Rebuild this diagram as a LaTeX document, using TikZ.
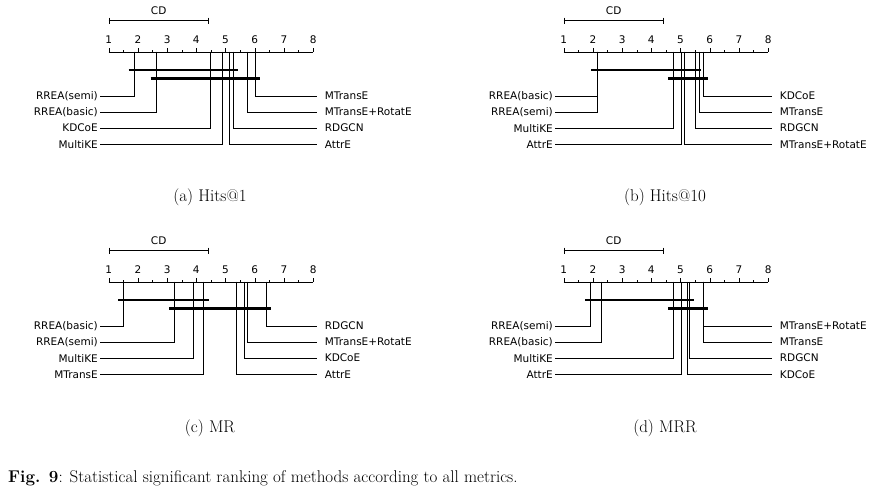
\documentclass[tikz,border=0pt]{standalone}
\usepackage{fontspec}
\newfontfamily\dv{DejaVu Sans}
\newcommand\X[1]{108.7+((#1)-1)*29.2}
\newcommand\cdaxis{%
  \draw[thin] (108.7,51.7) -- (313.1,51.7);
  \foreach \i in {1,...,8}{\draw[thin] ({\X{\i}},51.7) -- ({\X{\i}},48.2);
    \node[lbl,anchor=base] at ({\X{\i}},43.5) {\i};}
  \foreach \i in {1.5,2.5,...,7.5}{\draw[thin] ({\X{\i}},51.7) -- ({\X{\i}},50);}
  \draw[thin] ({\X{1}},20.5) -- ({\X{4.42}},20.5);
  \draw[thin] ({\X{1}},17.5) -- ({\X{1}},23.5);
  \draw[thin] ({\X{4.42}},17.5) -- ({\X{4.42}},23.5);
  \node[lbl,anchor=base] at ({\X{2.71}},14.5) {CD};}
\newcommand\lf[3]{\draw[thin] ({\X{#1}},51.7) |- (100,{95.7+16.2*#2}) node[lbl,anchor=east,xshift=-2pt]{#3};}
\newcommand\rt[3]{\draw[thin] ({\X{#1}},51.7) |- (316.7,{95.7+16.2*#2}) node[lbl,anchor=west,xshift=8pt]{#3};}
\newcommand\br[3]{\draw[line width=2.6pt] ({\X{#1}},#3) -- ({\X{#2}},#3);}
\begin{document}
\begin{tikzpicture}[x=1pt,y=-1pt,lbl/.style={font=\dv\fontsize{10.5}{12}\selectfont,inner sep=0pt},
  captxt/.style={font=\fontsize{17}{20}\selectfont,inner sep=0pt}]
\useasboundingbox (0,0) rectangle (879,496);
\fill[white] (0,0) rectangle (879,496);
% (a)
\begin{scope}
\cdaxis
\lf{1.86}{0}{RREA(semi)}\lf{2.62}{1}{RREA(basic)}\lf{4.49}{2}{KDCoE}\lf{4.87}{3}{MultiKE}
\rt{6.03}{0}{MTransE}\rt{5.76}{1}{MTransE+RotatE}\rt{5.27}{2}{RDGCN}\rt{5.11}{3}{AttrE}
\br{1.68}{5.43}{70}\br{2.44}{6.19}{78.7}
\end{scope}
\node[captxt] (ca) at (210,197) {(a) Hits@1};
% (b)
\begin{scope}[shift={(455,0)}]
\cdaxis
\lf{2.13}{0}{RREA(basic)}\lf{2.13}{1}{RREA(semi)}\lf{4.76}{2}{MultiKE}\lf{5.02}{3}{AttrE}
\rt{5.77}{0}{KDCoE}\rt{5.63}{1}{MTransE}\rt{5.52}{2}{RDGCN}\rt{5.12}{3}{MTransE+RotatE}
\br{1.94}{5.69}{70}\br{4.58}{5.95}{78.7}
\end{scope}
\node[captxt] (cb) at (665,197) {(b) Hits@10};
% (c)
\begin{scope}[shift={(0,230)}]
\cdaxis
\lf{1.50}{0}{RREA(basic)}\lf{3.24}{1}{RREA(semi)}\lf{3.88}{2}{MultiKE}\lf{4.24}{3}{MTransE}
\rt{6.38}{0}{RDGCN}\rt{5.76}{1}{MTransE+RotatE}\rt{5.64}{2}{KDCoE}\rt{5.37}{3}{AttrE}
\br{1.33}{4.42}{70}\br{3.08}{6.55}{78.7}
\end{scope}
\node[captxt] (cc) at (210,428) {(c) MR};
% (d)
\begin{scope}[shift={(455,230)}]
\cdaxis
\lf{1.92}{0}{RREA(semi)}\lf{2.30}{1}{RREA(basic)}\lf{4.76}{2}{MultiKE}\lf{5.02}{3}{AttrE}
\rt{5.77}{0}{MTransE+RotatE}\rt{5.77}{1}{MTransE}\rt{5.30}{2}{RDGCN}\rt{5.23}{3}{KDCoE}
\br{1.74}{5.45}{70}\br{4.58}{5.95}{78.7}
\end{scope}
\node[captxt] (cd) at (665,428) {(d) MRR};
\node[captxt,anchor=west] (fig) at (8,478) {\textbf{Fig. 9}: Statistical significant ranking of methods according to all metrics.};
\end{tikzpicture}
\end{document}
